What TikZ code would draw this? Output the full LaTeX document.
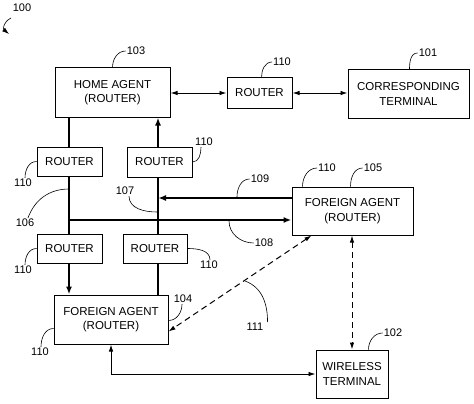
\documentclass[tikz,border=0pt]{standalone}
\usepackage{fontspec}
\setmainfont{Liberation Sans}
\usetikzlibrary{arrows.meta}
\begin{document}
\begin{tikzpicture}[x=1pt,y=-1pt,
  box/.style={draw,line width=1pt,inner sep=0pt,align=center,font=\fontsize{11.5}{14.5}\selectfont},
  lab/.style={inner sep=0pt,font=\fontsize{11}{13}\selectfont},
  lead/.style={line width=0.6pt},
  thk/.style={line width=1.8pt},
  thn/.style={line width=0.9pt},
  tipthick/.style={-{Latex[length=8pt,width=6pt]}},
  tipthin/.style={{Latex[length=7pt,width=4.5pt]}-{Latex[length=7pt,width=4.5pt]}},
  tipone/.style={-{Latex[length=7pt,width=4.5pt]}},
  dsh/.style={line width=1pt,dash pattern=on 6pt off 4pt}]
\useasboundingbox (0,0) rectangle (474,404);

% boxes
\node[box,minimum width=115pt,minimum height=49pt] (ha) at (112.5,92.5) {HOME AGENT\\(ROUTER)};
\node[box,minimum width=65pt,minimum height=30pt] (rt) at (259.5,93) {ROUTER};
\node[box,minimum width=121pt,minimum height=48pt] (corr) at (408.5,94) {CORRESPONDING\\TERMINAL};
\node[box,minimum width=65pt,minimum height=29pt] (rlu) at (69.5,161.5) {ROUTER};
\node[box,minimum width=65pt,minimum height=30pt] (rru) at (159.5,162) {ROUTER};
\node[box,minimum width=65pt,minimum height=29pt] (rll) at (69.5,248.5) {ROUTER};
\node[box,minimum width=64pt,minimum height=29pt] (rrl) at (155,248.5) {ROUTER};
\node[box,minimum width=121pt,minimum height=48pt] (fa105) at (352.5,211) {FOREIGN AGENT\\(ROUTER)};
\node[box,minimum width=114pt,minimum height=49pt] (fa104) at (111,319.5) {FOREIGN AGENT\\(ROUTER)};
\node[box,minimum width=72pt,minimum height=48pt] (wt) at (352,374) {WIRELESS\\TERMINAL};

% helper coordinates
\coordinate (lx) at (69,0);
\coordinate (rx) at (158,0);
\coordinate (p109) at (0,198);
\coordinate (p108) at (0,220);

% vertical thick lines
\draw[thk] (ha.south -| lx) -- (rlu.north -| lx);
\draw[thk] (rlu.south -| lx) -- (rll.north -| lx);
\draw[thk,tipthick] (rll.south -| lx) -- (fa104.north -| lx);
\draw[thk] (fa104.north -| rx) -- (rrl.south -| rx);
\draw[thk] (rrl.north -| rx) -- (rru.south -| rx);
\draw[thk,tipthick] (rru.north -| rx) -- (ha.south -| rx);

% horizontal thick
\draw[thk,tipthick] (fa105.west |- p109) -- (rx |- p109);
\draw[thk,tipthick] (lx |- p108) -- (fa105.west |- p108);

% thin arrows
\draw[thn,tipthin] (ha.east |- rt.west) -- (rt.west);
\draw[thn,tipthin] (rt.east) -- (corr.west |- rt.east);
\draw[thn,tipthin] (fa104.south) |- (wt.west);

% dashed
\draw[dsh,tipthin] ([xshift=20pt]fa105.south west) -- ([yshift=13pt]fa104.south east);
\draw[dsh,tipthin] (wt.north |- fa105.south) -- (wt.north);

% labels
\node[lab] (l100) at (22,8) {100};
\node[lab] (l103) at (136,51) {103};
\node[lab] (l110a) at (282,62) {110};
\node[lab] (l101) at (428,53) {101};
\node[lab] (l110b) at (204,142) {110};
\node[lab] (l110c) at (23,183) {110};
\node[lab] (l106) at (25,223) {106};
\node[lab] (l107) at (125,191) {107};
\node[lab] (l109) at (260,179) {109};
\node[lab] (l110d) at (327,168) {110};
\node[lab] (l105) at (373,168) {105};
\node[lab] (l108) at (264,243) {108};
\node[lab] (l110e) at (23,270) {110};
\node[lab] (l110f) at (209,265) {110};
\node[lab] (l104) at (183,299) {104};
\node[lab] (l110g) at (40,352) {110};
\node[lab] (l111) at (255,327) {111};
\node[lab] (l102) at (393,333) {102};

% 100 arrow
\coordinate (c100a) at (11,18);
\coordinate (c100b) at (9,34);
\draw[lead,tipone] (c100a) .. controls (3,22) and (3,29) .. (c100b);

% leaders
\draw[lead] ([xshift=58pt]ha.north west) to[out=90,in=180] ([xshift=-1pt]l103.west);
\draw[lead] ([xshift=35pt]rt.north west) to[out=90,in=180] ([xshift=-1pt]l110a.west);
\draw[lead] ([xshift=62pt]corr.north west) to[out=90,in=180] ([xshift=-1pt]l101.west);
\draw[lead] (rru.east) to[out=0,in=-90] ([xshift=-3pt,yshift=-1pt]l110b.south);
\draw[lead] (rlu.west) to[out=180,in=90] ([xshift=2pt,yshift=1pt]l110c.north);
\coordinate (c106) at (69,189);
\draw[lead] (c106) to[out=180,in=70] ([xshift=3pt,yshift=1pt]l106.north);
\coordinate (c107) at (157,212);
\draw[lead] ([xshift=4pt,yshift=-1pt]l107.south) to[out=-90,in=180] (c107);
\coordinate (c109) at (237,197);
\draw[lead] (c109) to[out=90,in=180] ([xshift=-1pt]l109.west);
\draw[lead] ([xshift=11pt]fa105.north west) to[out=90,in=180] ([xshift=-1pt]l110d.west);
\draw[lead] ([xshift=59pt]fa105.north west) to[out=90,in=180] ([xshift=-1pt]l105.west);
\coordinate (c108) at (229,221);
\draw[lead] (c108) to[out=-90,in=180] ([xshift=-1pt]l108.west);
\draw[lead] (rll.west) to[out=180,in=90] ([xshift=2pt,yshift=1pt]l110e.north);
\draw[lead] (rrl.east) to[out=0,in=90] ([xshift=1pt,yshift=1pt]l110f.north);
\draw[lead] ([yshift=-1pt]fa104.east) to[out=0,in=-90] ([xshift=-1pt,yshift=-1pt]l104.south);
\draw[lead] ([yshift=-9pt]fa104.west) to[out=180,in=90] ([xshift=1pt,yshift=1pt]l110g.north);
\coordinate (c111) at (245,281);
\draw[lead] (c111) to[out=-20,in=90] ([xshift=4pt,yshift=1pt]l111.north east);
\draw[lead] ([xshift=53pt]wt.north west) to[out=90,in=180] ([xshift=-1pt]l102.west);
\end{tikzpicture}
\end{document}
